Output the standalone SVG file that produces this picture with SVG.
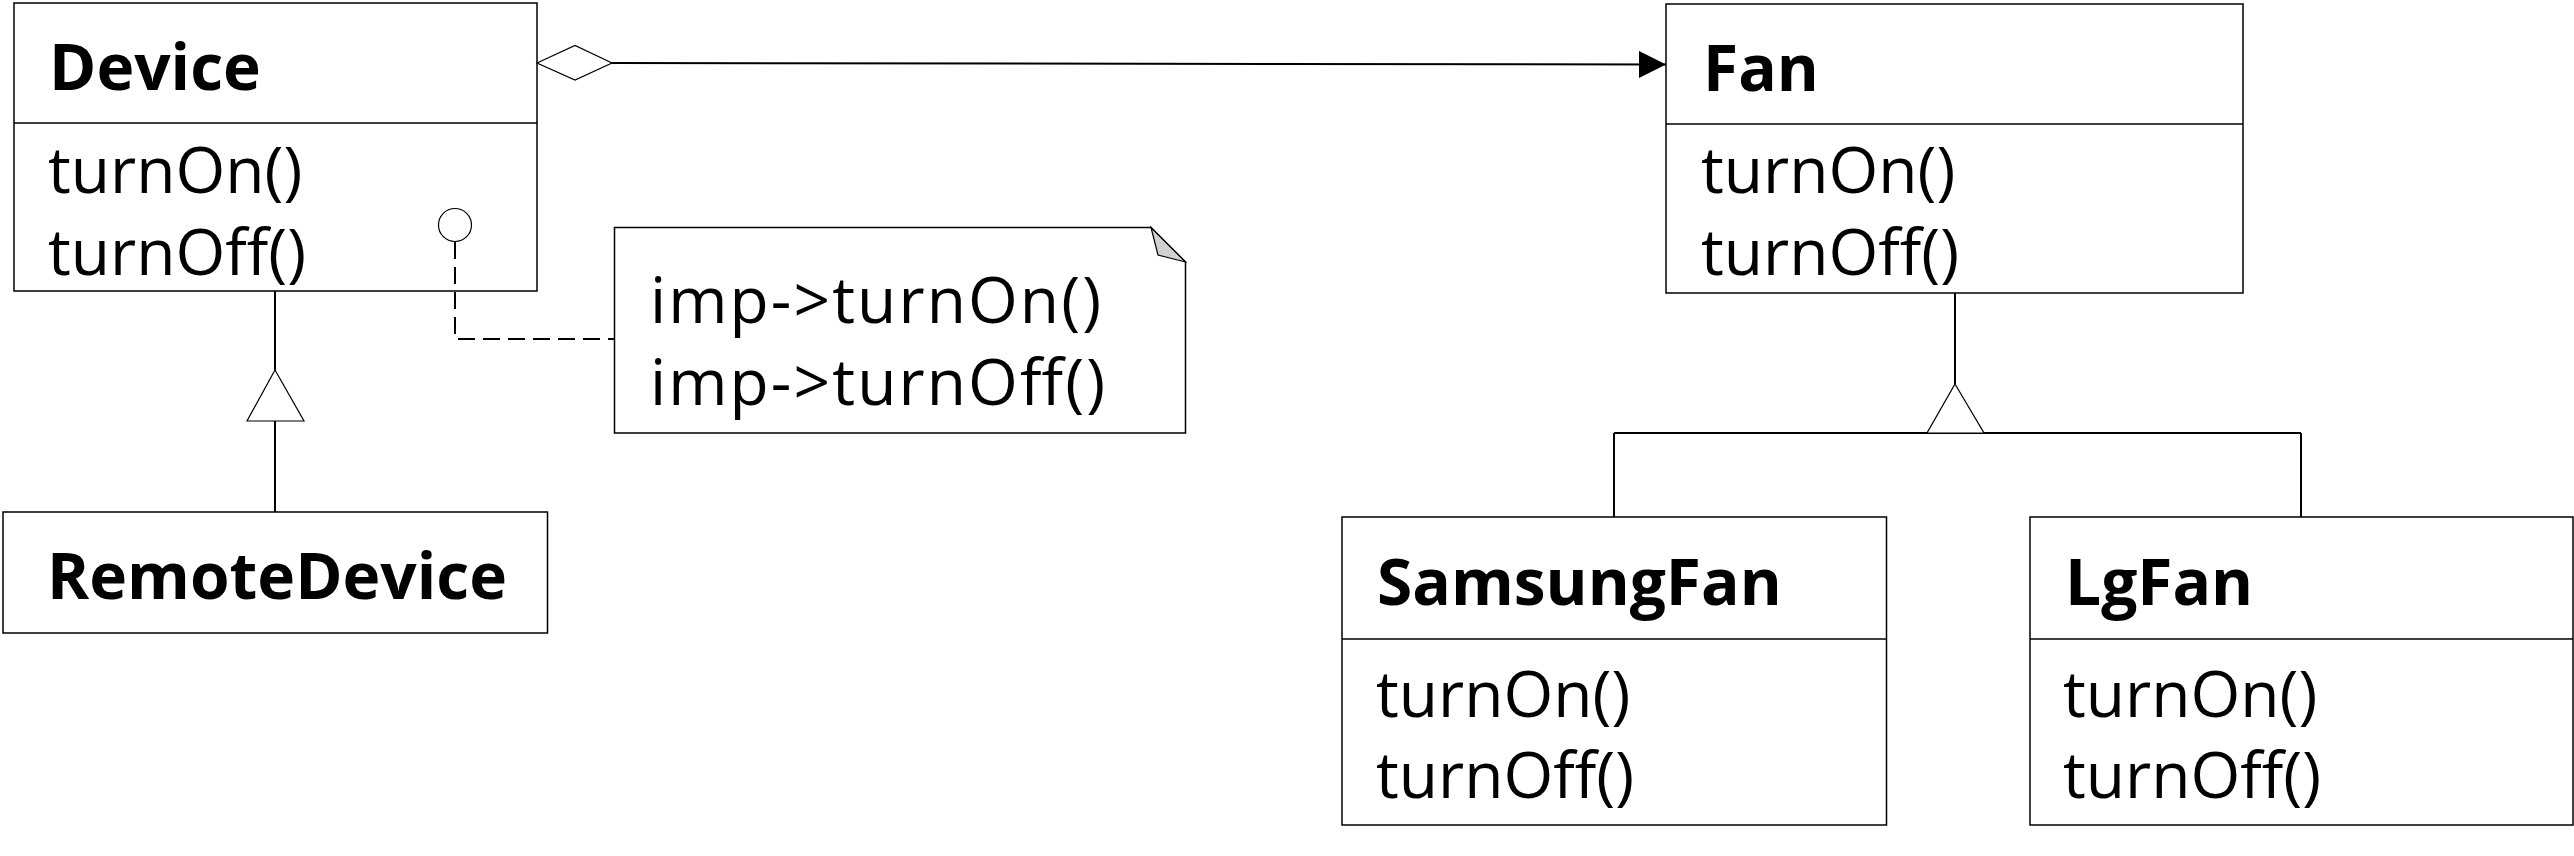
<svg xmlns="http://www.w3.org/2000/svg" width="2574" height="856" viewBox="0 0 2574 856">
<style>
.box{fill:#fff;stroke:#000;stroke-width:1.5}
.div{stroke:#000;stroke-width:1.5}
.title{font-family:"Open Sans","Noto Sans",sans-serif;font-weight:bold;font-size:64px;fill:#000}
.m{font-family:"Open Sans","Noto Sans",sans-serif;font-size:64px;fill:#000}
.ln{fill:none;stroke:#000;stroke-width:2}
.tri{fill:#fff;stroke:#000;stroke-width:1.2}
.dash{fill:none;stroke:#000;stroke-width:2;stroke-dasharray:17 8}
</style>
<defs>
<marker id="arr" markerWidth="28" markerHeight="28" refX="27" refY="13.5" orient="auto" markerUnits="userSpaceOnUse">
<path d="M0,0 L27,13.5 L0,27 Z" fill="#000"/>
</marker>
</defs>
<rect width="2574" height="856" fill="#fff"/>
<g id="device">
<rect class="box" x="14" y="3" width="523" height="288"/>
<line class="div" x1="14" y1="123" x2="537" y2="123"/>
<text class="title" x="49" y="90">Device</text>
<text class="m" x="48" y="193">turnOn()</text>
<text class="m" x="48" y="275">turnOff()</text>
</g>
<g id="note">
<path d="M614.5,227.5 L1151,227.5 L1185.5,262 L1185.5,433 L614.5,433 Z" fill="#fff" stroke="#000" stroke-width="1.5"/>
<path d="M1151,227.5 L1158,255 L1185.5,262 Z" fill="#d0d0d0" stroke="#000" stroke-width="1.2"/>
<text class="m" x="650" y="323" textLength="451" lengthAdjust="spacing">imp-&gt;turnOn()</text>
<text class="m" x="650" y="405" textLength="455" lengthAdjust="spacing">imp-&gt;turnOff()</text>
</g>
<g id="remotedevice">
<rect class="box" x="3" y="512" width="544.5" height="121"/>
<text class="title" x="47" y="599">RemoteDevice</text>
</g>
<g id="fan">
<rect class="box" x="1666" y="4" width="577" height="289"/>
<line class="div" x1="1666" y1="124" x2="2243" y2="124"/>
<text class="title" x="1703" y="91">Fan</text>
<text class="m" x="1701" y="193">turnOn()</text>
<text class="m" x="1701" y="275">turnOff()</text>
</g>
<g id="samsungfan">
<rect class="box" x="1342" y="517" width="544.5" height="308"/>
<line class="div" x1="1342" y1="639" x2="1886.5" y2="639"/>
<text class="title" x="1377" y="605">SamsungFan</text>
<text class="m" x="1376" y="717">turnOn()</text>
<text class="m" x="1376" y="798">turnOff()</text>
</g>
<g id="lgfan">
<rect class="box" x="2030" y="517" width="543" height="308"/>
<line class="div" x1="2030" y1="639" x2="2573" y2="639"/>
<text class="title" x="2065" y="605">LgFan</text>
<text class="m" x="2063" y="717">turnOn()</text>
<text class="m" x="2063" y="798">turnOff()</text>
</g>
<g id="connectors">
<path class="ln" d="M612,63 L1666,64.5" marker-end="url(#arr)"/>
<path class="tri" d="M537,63 L575,45.5 L612,63 L575,80 Z"/>
<path class="ln" d="M275,291 L275,370 M275,421 L275,512"/>
<path class="tri" d="M275,370 L304,421 L247,421 Z"/>
<path class="ln" d="M1955,293 L1955,384 M1614,433 L2301,433 M1614,433 L1614,517 M2301,433 L2301,517"/>
<path class="tri" d="M1955,384 L1984,433 L1927,433 Z"/>
<circle cx="455" cy="225" r="16.5" fill="#fff" stroke="#000" stroke-width="1.2"/>
<path class="dash" d="M455,242 L455,339 L614,339"/>
</g>
</svg>
